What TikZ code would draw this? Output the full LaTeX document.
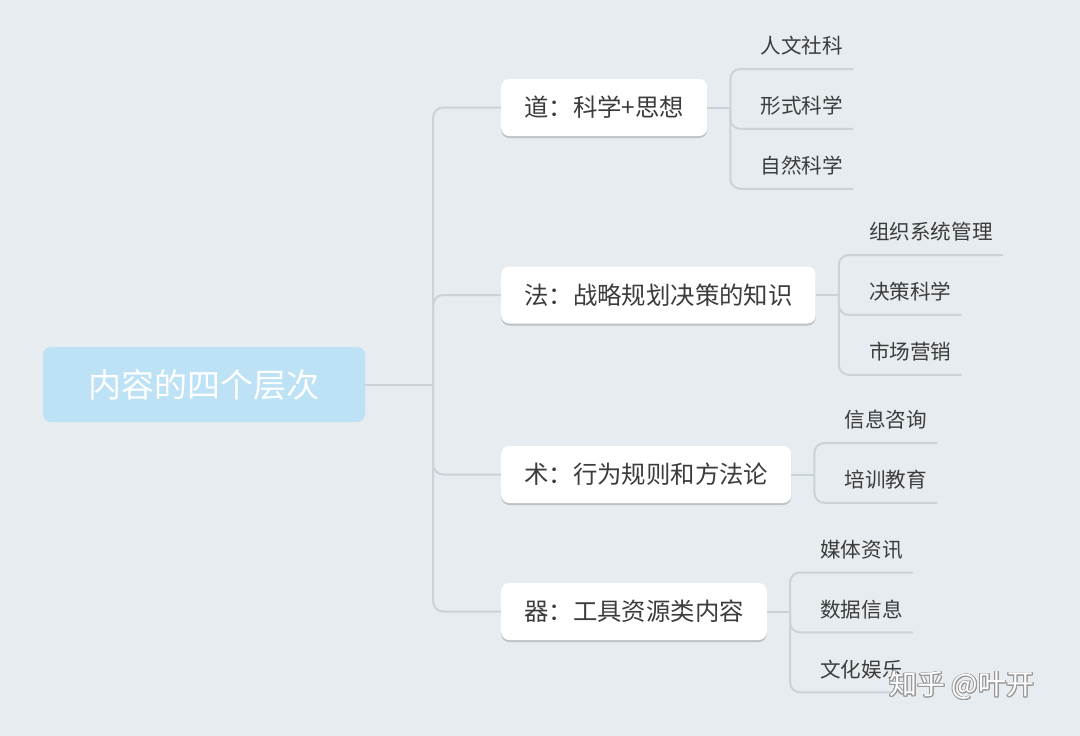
\documentclass[tikz,border=0pt]{standalone}
\usepackage{fontspec}
\setmainfont{Noto Sans CJK SC}
\usepackage{contour}
\usepackage{tikz}
\usetikzlibrary{positioning,shadows}

\definecolor{bgcol}{HTML}{E6ECF0}
\definecolor{rootblue}{HTML}{BDE2F6}
\definecolor{txtgray}{HTML}{3C3C3C}
\definecolor{linegray}{HTML}{CBD3D9}

\begin{document}
\begin{tikzpicture}[
        x=1pt, y=-1pt,
        node distance=30.5pt,
        root/.style={rectangle, fill=rootblue, text=white, rounded corners=8pt, minimum width=322pt, minimum height=75pt, font=\fontsize{33}{40}\selectfont},
        topic/.style={rectangle, fill=white, text=txtgray, rounded corners=8pt, inner xsep=23pt, minimum height=57pt, font=\fontsize{24.4}{28}\selectfont, drop shadow={shadow xshift=0pt, shadow yshift=-2pt, fill=black, opacity=0.18}},
        leaf/.style={text=txtgray, inner xsep=10pt, inner ysep=0pt, text height=14pt, text depth=15pt, font=\fontsize{20.6}{24}\selectfont},
        branch/.style={draw=linegray, line width=2pt, rounded corners=10pt},
        wmark/.style={text=white, font=\fontsize{28}{32}\selectfont}
    ]

        % Background
        \fill[bgcol] (0,0) rectangle (1080,736);
        \useasboundingbox (0,0) rectangle (1080,736);

        % Central topic
        \node [root] (root) at (204,384.5) {内容的四个层次};

        % Main topics
        \node [topic, anchor=west] (dao) at (501,107.5) {道：科学+思想};
        \node [topic, anchor=west] (fa) at (501,295) {法：战略规划决策的知识};
        \node [topic, anchor=west] (shu) at (501,474.5) {术：行为规则和方法论};
        \node [topic, anchor=west] (qi) at (501,611.5) {器：工具资源类内容};

        % Subtopics of dao
        \node [leaf, anchor=south west] (renwen) at ([xshift=43pt, yshift=38.5pt]dao.east) {人文社科};
        \node [leaf, below=of renwen.south west, anchor=north west] (xingshi) {形式科学};
        \node [leaf, below=of xingshi.south west, anchor=north west] (ziran) {自然科学};

        % Subtopics of fa
        \node [leaf, anchor=south west] (zuzhi) at ([xshift=43pt, yshift=40pt]fa.east) {组织系统管理};
        \node [leaf, below=of zuzhi.south west, anchor=north west] (juece) {决策科学};
        \node [leaf, below=of juece.south west, anchor=north west] (shichang) {市场营销};

        % Subtopics of shu
        \node [leaf, anchor=south west] (xinxi) at ([xshift=43pt, yshift=31.5pt]shu.east) {信息咨询};
        \node [leaf, below=of xinxi.south west, anchor=north west] (peixun) {培训教育};

        % Subtopics of qi
        \node [leaf, anchor=south west] (meiti) at ([xshift=43pt, yshift=39pt]qi.east) {媒体资讯};
        \node [leaf, below=of meiti.south west, anchor=north west] (shuju) {数据信息};
        \node [leaf, below=of shuju.south west, anchor=north west] (wenhua) {文化娱乐};

        % Junctions
        \coordinate [right=68pt of root.east] (hub);
        \coordinate [right=23pt of dao.east] (jdao);
        \coordinate [right=23pt of fa.east] (jfa);
        \coordinate [right=23pt of shu.east] (jshu);
        \coordinate [right=23pt of qi.east] (jqi);

        % Branches
        \draw [branch] (root.east) -- (hub);
        \foreach \t in {dao,fa,shu,qi}
            \draw [branch] (hub) |- (\t.west);

        \draw [branch] (dao.east) -- (jdao);
        \foreach \l in {renwen,xingshi,ziran}
            \draw [branch] (jdao) |- (\l.south west) -- (\l.south east);

        \draw [branch] (fa.east) -- (jfa);
        \foreach \l in {zuzhi,juece,shichang}
            \draw [branch] (jfa) |- (\l.south west) -- (\l.south east);

        \draw [branch] (shu.east) -- (jshu);
        \foreach \l in {xinxi,peixun}
            \draw [branch] (jshu) |- (\l.south west) -- (\l.south east);

        \draw [branch] (qi.east) -- (jqi);
        \foreach \l in {meiti,shuju,wenhua}
            \draw [branch] (jqi) |- (\l.south west) -- (\l.south east);

        % Watermark
        \contourlength{0.9pt}
        \node [wmark] (wm) at (962,686) {\contour{gray!80}{知乎 @叶开}};

    \end{tikzpicture}
\end{document}
